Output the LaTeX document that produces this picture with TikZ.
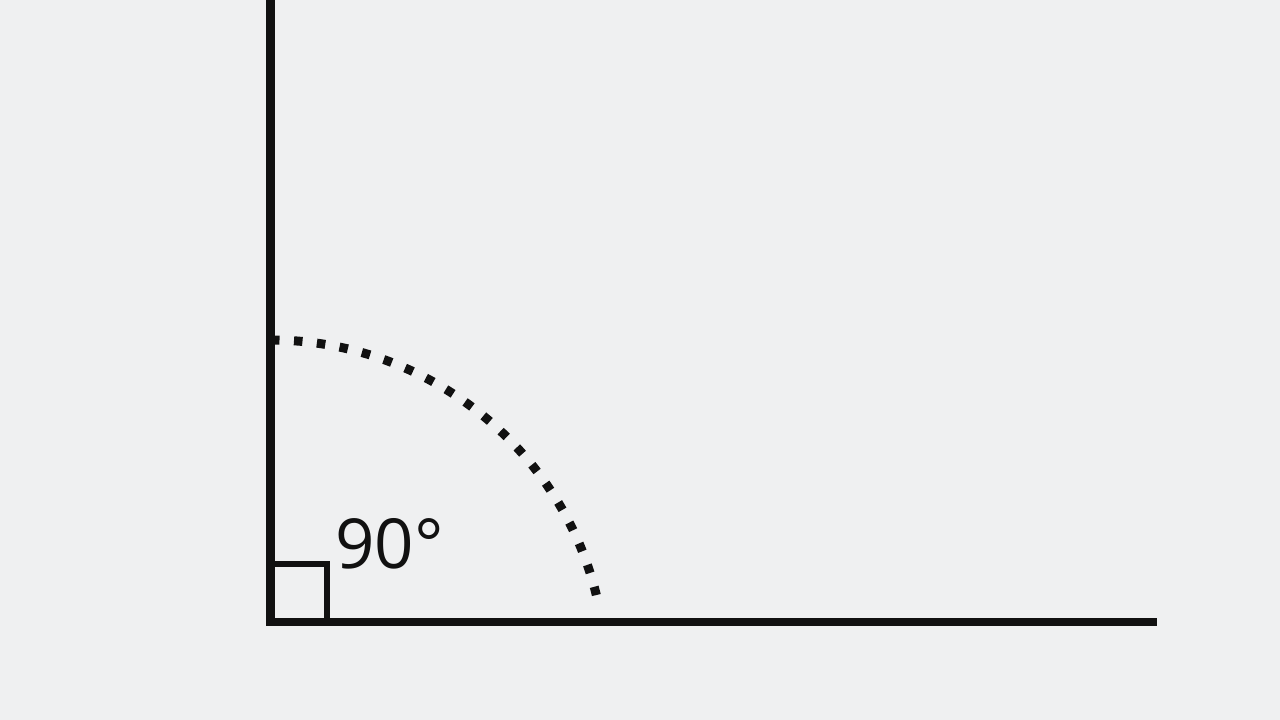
\documentclass[tikz,border=0pt]{standalone}
\usepackage{fontspec}
\setmainfont{Open Sans}
\definecolor{bg}{HTML}{EFF0F1}
\definecolor{ink}{HTML}{111111}
\begin{document}
\begin{tikzpicture}[x=1pt,y=-1pt,
  edge/.style={draw=ink,line width=8.5pt},
  marker/.style={draw=ink,line width=6.5pt},
  arcdots/.style={draw=ink,line width=9pt,dash pattern=on 8.5pt off 14.5pt}]
\fill[bg] (0,0) rectangle (1280,720);
\useasboundingbox (0,0) rectangle (1280,720);
\coordinate (top) at (270.5,-5);
\coordinate (O) at (270.5,622);
\coordinate (end) at (1157,622);
\draw[edge,line join=miter] (top) -- (O) -- (end);
\draw[marker] (270.5,564) -- (327,564) -- (327,622);
\draw[arcdots] (271,340) arc[start angle=-90,end angle=-12,radius=335];
\node[anchor=base west,inner sep=0pt,text=ink,font=\fontsize{69}{69}\selectfont] (lbl) at (335,568) {90°};
\end{tikzpicture}
\end{document}
